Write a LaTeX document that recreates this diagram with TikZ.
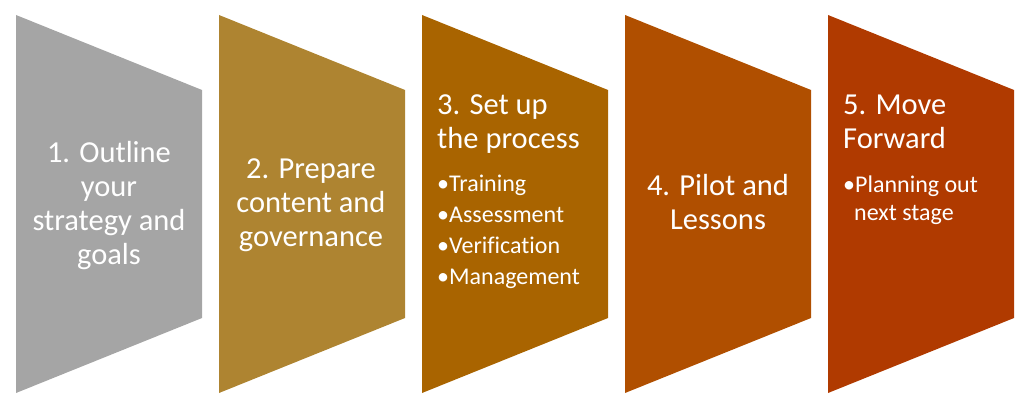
\documentclass[tikz,border=0pt]{standalone}
\usepackage{fontspec}
\setmainfont[Ligatures=NoCommon]{Carlito}
\usepackage{tikz}
\definecolor{stepone}{HTML}{A5A5A5}
\definecolor{steptwo}{HTML}{AE8431}
\definecolor{stepthree}{HTML}{A96400}
\definecolor{stepfour}{HTML}{B04F00}
\definecolor{stepfive}{HTML}{B03A00}

\begin{document}
\begin{tikzpicture}[x=1pt,y=-1pt,
	headtext/.style={text=white,inner sep=0pt,font=\fontsize{30.5}{34}\selectfont},
	itemtext/.style={text=white,inner sep=0pt,align=left,font=\fontsize{24}{28}\selectfont}]
			\useasboundingbox (0,0) rectangle (1024,417);
			% the five steps
			\fill [stepone] (16,15)-- (202,90)-- (202,318)-- (16,393)-- cycle;
			\fill [steptwo] (219,15)-- (405,90)-- (405,318)-- (219,393)-- cycle;
			\fill [stepthree] (422,15)-- (608,90)-- (608,318)-- (422,393)-- cycle;
			\fill [stepfour] (625,15)-- (811,90)-- (811,318)-- (625,393)-- cycle;
			\fill [stepfive] (828,15)-- (1014,90)-- (1014,318)-- (828,393)-- cycle;
		
				% texts, placed at the baseline of their last line
				\node[headtext,align=center,anchor=base] (outline) at (109,264) {1. Outline\\your\\strategy and\\goals};
				\node[headtext,align=center,anchor=base] (prepare) at (311,246) {2. Prepare\\content and\\governance};
				\node[headtext,align=left,anchor=base west] (setup) at (437,148) {3. Set up\\the process};
				\node[itemtext,anchor=base west] (setupitems) at (437,284) {•Training\\[3pt]•Assessment\\[3pt]•Verification\\[3pt]•Management};
				\node[headtext,align=center,anchor=base] (pilot) at (718,229) {4. Pilot and\\Lessons};
				\node[headtext,align=left,anchor=base west] (move) at (843,148) {5. Move\\Forward};
				\node[itemtext,anchor=base west] (moveitems) at (843,220) {•Planning out\\\hspace*{11pt}next stage};
		\end{tikzpicture}
\end{document}
